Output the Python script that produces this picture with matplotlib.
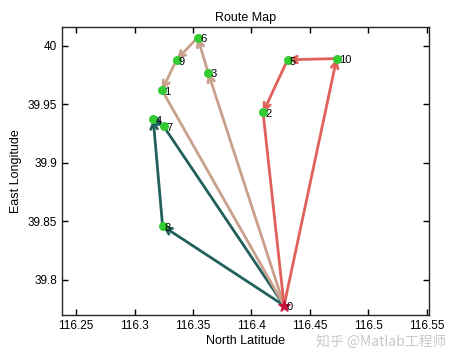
import matplotlib.pyplot as plt

plt.rcParams['font.family'] = ['Liberation Sans', 'DejaVu Sans']

# point coordinates (index 0 is the depot)
lon = [116.428, 116.3235, 116.410, 116.363, 116.316, 116.431,
       116.354, 116.325, 116.324, 116.336, 116.473]
lat = [39.778, 39.962, 39.943, 39.977, 39.937, 39.988,
       40.007, 39.931, 39.846, 39.988, 39.989]

routes = [[0, 8, 4, 7, 0],
          [0, 3, 6, 9, 1, 0],
          [0, 10, 5, 2, 0]]
route_colors = ['#22605c', '#c9a08c', '#e0605a']

fig = plt.figure(figsize=(4.74, 3.55), dpi=100)
ax = fig.add_axes([0.131, 0.113, 0.774, 0.811])

for route, c in zip(routes, route_colors):
    for k in range(len(route) - 1):
        a, b = route[k], route[k + 1]
        if b == 0:
            ax.plot([lon[a], lon[b]], [lat[a], lat[b]], color=c, lw=2, zorder=2)
        else:
            ax.annotate('', xy=(lon[b], lat[b]), xytext=(lon[a], lat[a]),
                        arrowprops=dict(arrowstyle='->', color=c, lw=2,
                                        mutation_scale=12,
                                        shrinkA=0, shrinkB=0), zorder=2)

ax.scatter(lon[1:], lat[1:], s=30, color='#33cc33', zorder=3)
ax.scatter(lon[0], lat[0], s=70, marker='*', color='#c8143c', zorder=4)

for i in range(len(lon)):
    ax.text(lon[i] + 0.002, lat[i] - 0.0015, str(i), fontsize=8,
            ha='left', va='center', zorder=5)

ax.set_xlim(116.238, 116.552)
ax.set_ylim(39.770, 40.016)
ax.set_xticks([116.25, 116.3, 116.35, 116.4, 116.45, 116.5, 116.55])
ax.set_xticklabels(['116.25', '116.3', '116.35', '116.4', '116.45', '116.5', '116.55'])
ax.set_yticks([39.8, 39.85, 39.9, 39.95, 40])
ax.set_yticklabels(['39.8', '39.85', '39.9', '39.95', '40'])
ax.tick_params(direction='in', top=True, right=True, labelsize=8.5, length=4, width=1)
for s in ax.spines.values():
    s.set_linewidth(1)
    s.set_color('#262626')

ax.set_title('Route Map', fontsize=9, pad=4)
ax.set_xlabel('North Latitude', fontsize=9, labelpad=2)
ax.set_ylabel('East Longitude', fontsize=9, labelpad=4)

fig.text(0.805, 0.038, '知乎 @Matlab工程师', fontsize=10, color='#bbbbbb', alpha=0.8,
         ha='center', va='center', family=['Noto Sans CJK SC', 'DejaVu Sans'])

plt.savefig('out.png', dpi=100)
